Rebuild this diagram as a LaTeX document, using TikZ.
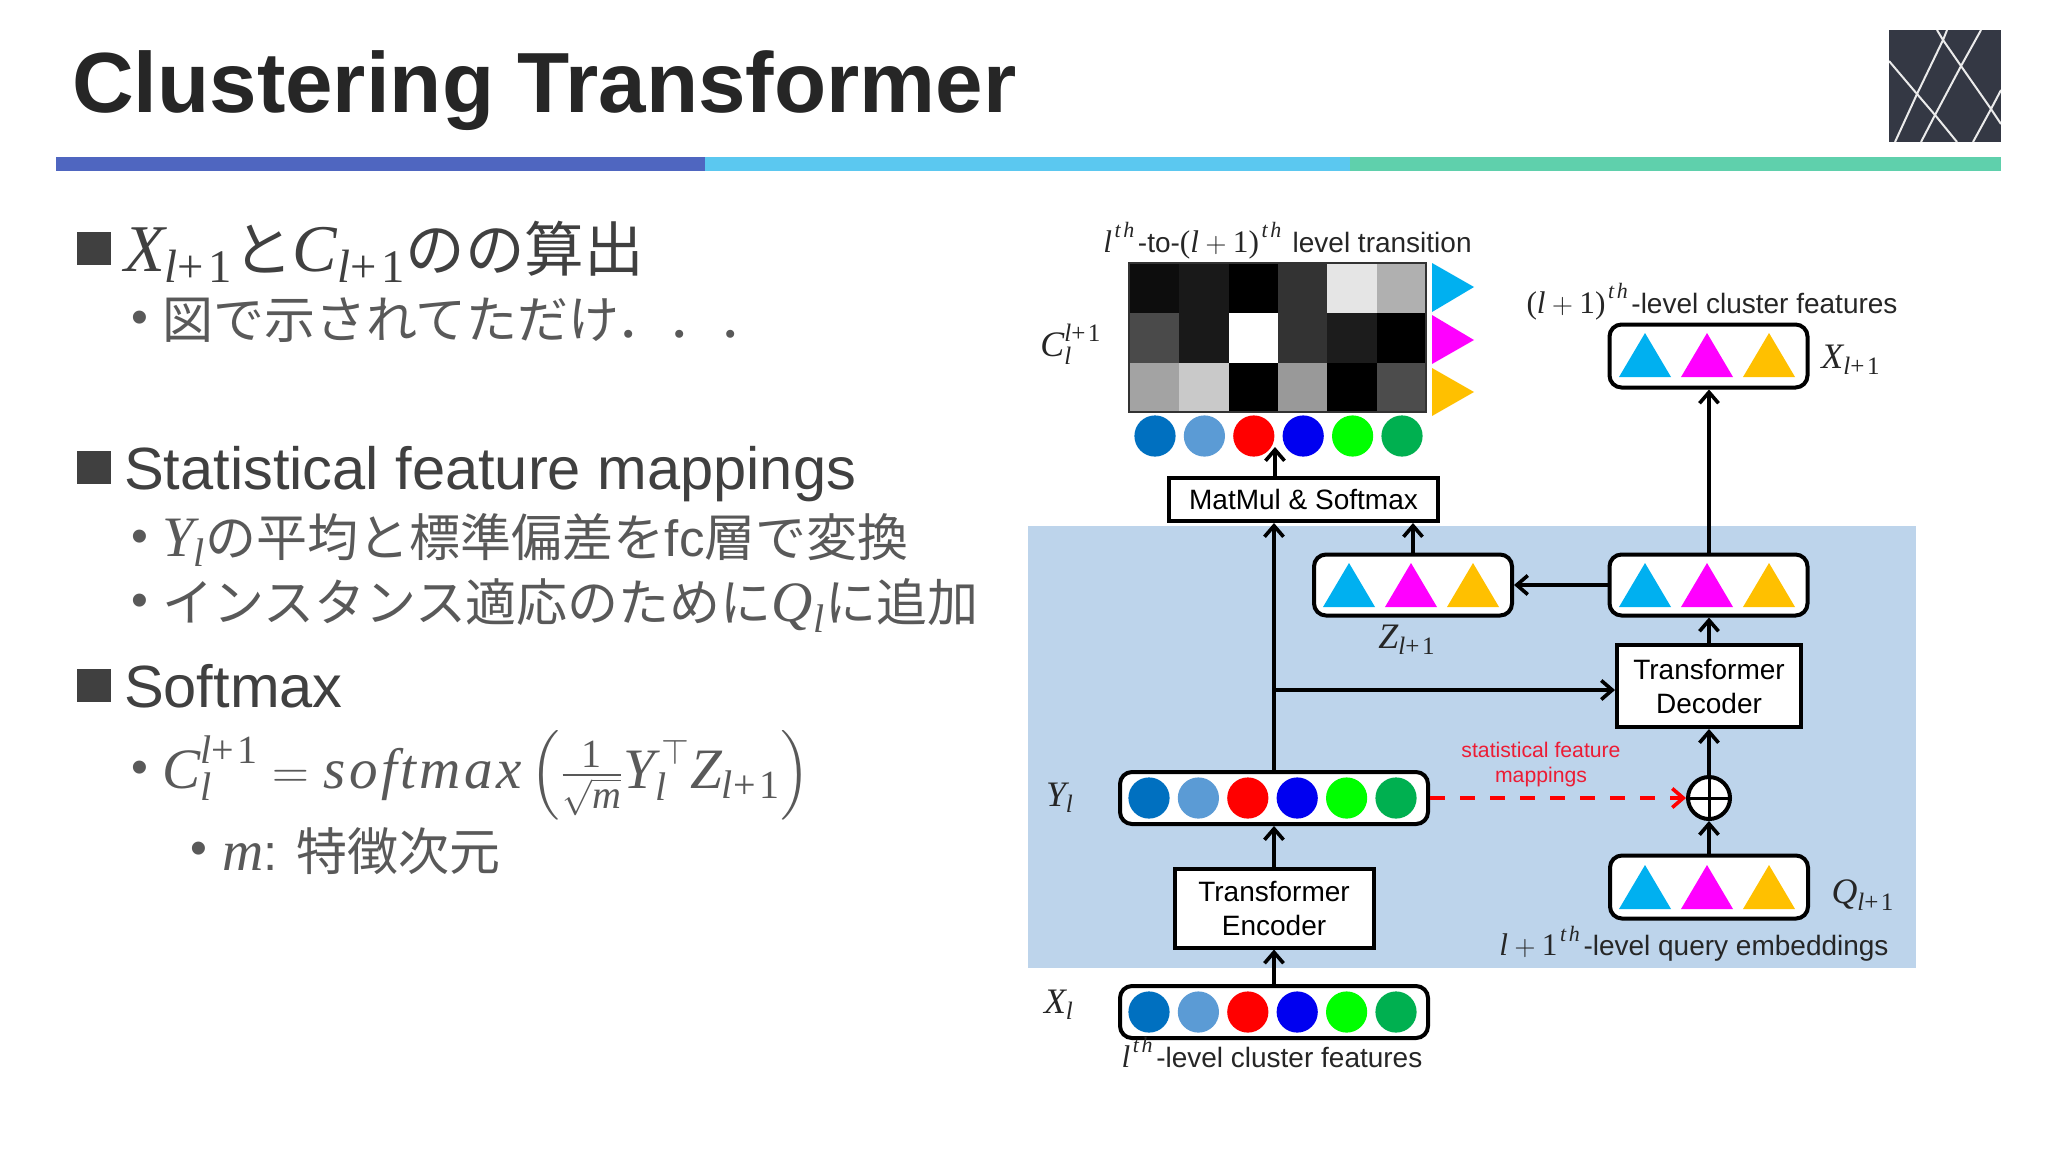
\documentclass[tikz,border=0pt]{standalone}
\usepackage{fix-cm}
\usepackage{amsmath}
\usepackage{fontspec}
\setmainfont{Liberation Sans}
\newfontfamily\jp{Noto Sans CJK JP}
\newfontfamily\mfam[Scale=1.12]{Liberation Serif}
\newfontfamily\mspaced[Scale=1.12,LetterSpace=6]{Liberation Serif}
\newfontfamily\mwide[Scale=1.12,LetterSpace=10]{Liberation Serif}
\newcommand{\mv}[1]{\text{\mfam\itshape #1}}
\newcommand{\mr}[1]{\text{\mfam\upshape #1}}
\newcommand{\lp}{\text{\mwide\itshape l}\text{\mwide\upshape +1}}
\newcommand{\thsup}{^{\text{\mfam\itshape\kern1.3pt t\kern1.3pt h\kern1.3pt}}}
\usetikzlibrary{arrows.meta}
\definecolor{cblue}{HTML}{0070C0}
\definecolor{clblue}{HTML}{5B9BD5}
\definecolor{cred}{HTML}{FF0000}
\definecolor{cdblue}{HTML}{0000F0}
\definecolor{clime}{HTML}{00FF00}
\definecolor{cgreen}{HTML}{00B050}
\definecolor{tcyan}{HTML}{00B0F0}
\definecolor{tmag}{HTML}{FF00FF}
\definecolor{tamb}{HTML}{FFC000}
\definecolor{panel}{HTML}{BDD4EB}
\definecolor{headtxt}{HTML}{404040}
\definecolor{subtxt}{HTML}{595959}
\definecolor{logobg}{HTML}{343844}
\tikzset{
  txt/.style={anchor=base west,inner sep=0pt,outer sep=0pt},
  ctxt/.style={anchor=base,inner sep=0pt,outer sep=0pt},
  head/.style={txt,text=headtxt,font=\fontsize{29.8}{36}\selectfont},
  sub/.style={txt,text=subtxt,font=\fontsize{25.5}{30}\selectfont},
  bul/.style={anchor=center,inner sep=0pt,text=subtxt,font=\fontsize{24}{28}\selectfont},
  sq/.style={fill=headtxt,inner sep=0pt,minimum width=17pt,minimum height=16.5pt},
  rbox/.style={draw=black,fill=white,line width=2pt,rounded corners=6pt,inner sep=0pt},
  sbox/.style={draw=black,fill=white,line width=2pt,inner sep=0pt,align=center,font=\fontsize{14}{17}\selectfont},
  dot/.style={circle,inner sep=0pt,minimum size=20.6pt},
  arr/.style={draw=black,line width=2pt,-{Straight Barb[length=5.5pt,width=9.5pt,line width=1.8pt]}},
  lbl/.style={ctxt,text=black!85,font=\fontsize{14}{16}\selectfont},
  mlbl/.style={anchor=center,inner sep=0pt,text=black!85,font=\fontsize{16}{18}\selectfont},
}
\newcommand{\sixdots}[3]{% prefix, x0 centre of first dot, y
  \foreach \i/\c in {0/cblue,1/clblue,2/cred,3/cdblue,4/clime,5/cgreen}
    \node[dot,fill=\c] (#1\i) at ({#2+49.4*\i},#3) {};
}
\newcommand{\threetri}[3]{% prefix, cx, cy
  \foreach \i/\c in {-1/tcyan,0/tmag,1/tamb}
    \fill[\c] ({#2+62*\i-26},{#3+22}) -- ({#2+62*\i},{#3-22}) -- ({#2+62*\i+26},{#3+22}) -- cycle;
}
\begin{document}
\begin{tikzpicture}[x=0.5pt,y=-0.5pt]
\useasboundingbox (0,0) rectangle (2048,1152);
\fill[white] (0,0) rectangle (2048,1152);

% title, rule and logo
\node[txt,text=black!85,font=\fontsize{42.7}{50}\selectfont\bfseries] (title) at (72,112.5) {Clustering Transformer};
\fill[fill={rgb,255:red,79;green,102;blue,192}] (56,157) rectangle (705,171);
\fill[fill={rgb,255:red,91;green,200;blue,240}] (705,157) rectangle (1350,171);
\fill[fill={rgb,255:red,95;green,208;blue,172}] (1350,157) rectangle (2001,171);
\fill[logobg] (1889,30) rectangle (2001,142);
\begin{scope}[white!92!black,line width=1pt,line join=round]
\clip (1889,30) rectangle (2001,142);
\draw (1889,61) -- (1917,94) -- (1935,115) -- (1957,142);
\draw (1895,142) -- (1917,94) -- (1943,40) -- (1947,30);
\draw (1937,30) -- (1943,40) -- (1961,66) -- (1991,109) -- (2001,124);
\draw (1921,142) -- (1935,115) -- (1961,66) -- (1981,30);
\draw (1973,142) -- (1991,109) -- (2001,90);
\end{scope}

% left column
\node[sq] (s1) at (93.5,248.5) {};
\node[head] (t1) at (124,271) {$\mv{X}_{\lp}${\jp と}$\mv{C}_{\lp}${\jp のの算出}};
\node[bul] (b2) at (140,322) {•};
\node[sub] (t2) at (162,338) {\jp 図で示されてただけ．．．};
\node[sq] (s3) at (93.5,467.5) {};
\node[head] (t3) at (124,489) {Statistical feature mappings};
\node[bul] (b4) at (140,541) {•};
\node[sub] (t4) at (162,556) {$\mv{Y}_{\mv{l}}${\jp の平均と標準偏差を}fc{\jp 層で変換}};
\node[bul] (b5) at (140,605) {•};
\node[sub] (t5) at (162,621) {\jp インスタンス適応のために$\mv{Q}_{\mv{l}}${\jp に追加}};
\node[sq] (s6) at (93.5,685.5) {};
\node[head] (t6) at (124,707) {Softmax};
\node[bul] (b7) at (140,772) {•};
\node[sub] (t7) at (162,788) {$\mv{C}_{\mv{l}}^{\lp}=\text{\mspaced\itshape softmax}\left(\frac{\mr{1}}{\sqrt{\mv{m}}}\mv{Y}_{\mv{l}}^{\,\top}\mv{Z}_{\lp}\right)$};
\node[bul] (b8) at (199,853) {•};
\node[sub] (t8) at (222,870) {$\mv{m}$: {\jp 特徴次元}};

% panel
\fill[panel] (1028,526) rectangle (1916,968);

% heat map
\node[draw=black!80,line width=1pt,inner sep=0pt,minimum width=148.5pt,minimum height=74.5pt] (heat) at (1277.5,337.5) {};
\foreach \xa/\xb/\ga/\gb/\gc in {1129/1179/5/29/64,1179/1229/10/10/79,1229/1278/0/100/0,1278/1327/20/20/60,1327/1377/90/11/0,1377/1426/69/0/30}{
  \fill[black!\the\numexpr100-\ga\relax] (\xa,263) rectangle (\xb,313);
  \fill[black!\the\numexpr100-\gb\relax] (\xa,313) rectangle (\xb,363);
  \fill[black!\the\numexpr100-\gc\relax] (\xa,363) rectangle (\xb,412);
}
\draw[black!80,line width=1pt] (1129,263) rectangle (1426,412);
\fill[tcyan] (1432,263) -- (1474,287) -- (1432,312) -- cycle;
\fill[tmag] (1432,315) -- (1474,340) -- (1432,364) -- cycle;
\fill[tamb] (1432,368) -- (1474,392) -- (1432,416) -- cycle;
\sixdots{c}{1155}{436}
\node[lbl] (lt) at (1287.5,252) {$\mv{l}\thsup$-to-$\mr{(}\mv{l}+\mr{1)}\thsup$ level transition};
\node[mlbl] (lc) at (1071,344) {$\mv{C}_{\mv{l}}^{\lp}$};

% boxes
\node[sbox,minimum width=134.5pt,minimum height=21.5pt] (matmul) at (1303.5,499.5) {MatMul \& Softmax};
\node[rbox,minimum width=99pt,minimum height=31.5pt] (xn) at (1708.5,356) {};
\threetri{xn}{1707}{355}
\node[lbl] (lxn) at (1712,313) {$\mr{(}\mv{l}+\mr{1)}\thsup$-level cluster features};
\node[mlbl] (mxn) at (1851,360) {$\mv{X}_{\lp}$};

\node[rbox,minimum width=99pt,minimum height=30.5pt] (dout) at (1708.5,585) {};
\threetri{dout}{1707}{585}
\node[rbox,minimum width=99pt,minimum height=30.5pt] (zb) at (1413,585) {};
\threetri{zb}{1411}{585}
\node[mlbl] (mz) at (1407,640) {$\mv{Z}_{\lp}$};

\node[sbox,minimum width=92pt,minimum height=41pt] (dec) at (1709,686) {Transformer\\Decoder};
\node[circle,draw=black,fill=white,line width=2pt,inner sep=0pt,minimum size=21pt] (op) at (1709,798) {};
\draw[black,line width=1.5pt] (op.north) -- (op.south);
\draw[black,line width=1.5pt] (op.west) -- (op.east);

\node[rbox,minimum width=99pt,minimum height=31.5pt] (qb) at (1709,887) {};
\threetri{qb}{1707}{887}
\node[mlbl] (mq) at (1863,895) {$\mv{Q}_{\lp}$};
\node[lbl] (lq) at (1694,955) {$\mv{l}+\mr{1}\thsup$-level query embeddings};

\node[rbox,minimum width=154pt,minimum height=26pt] (yb) at (1274,798) {};
\sixdots{y}{1149}{798}
\node[mlbl] (my) at (1060,798) {$\mv{Y}_{\mv{l}}$};

\node[sbox,minimum width=99.5pt,minimum height=39.5pt] (enc) at (1274,908) {Transformer\\Encoder};

\node[rbox,minimum width=154pt,minimum height=26pt] (xb) at (1274,1012) {};
\sixdots{x}{1149}{1012}
\node[mlbl] (mx) at (1059,1005) {$\mv{X}_{\mv{l}}$};
\node[lbl] (lx) at (1272,1067) {$\mv{l}\thsup$-level cluster features};

\node[ctxt,text={rgb,255:red,236;green,28;blue,52},font=\fontsize{10.6}{13}\selectfont] (r1) at (1541,757) {statistical feature};
\node[ctxt,text={rgb,255:red,236;green,28;blue,52},font=\fontsize{10.6}{13}\selectfont] (r2) at (1541,782) {mappings};

% connectors
\coordinate (ctip) at (1275,447);
\coordinate (jy) at (1400,690);
\draw[arr] (matmul.north -| ctip) -- (ctip);
\draw[arr] (yb.north) -- (yb.north |- matmul.south);
\draw[arr] (zb.north) -- (zb.north |- matmul.south);
\coordinate (junc) at (yb.north |- jy);
\draw[arr] (junc) -- (dec.west |- jy);
\draw[arr] (dout.west) -- (zb.east);
\draw[arr] (dec.north) -- (dout.south -| dec.north);
\draw[arr] (dout.north -| dec.north) -- (xn.south -| dec.north);
\draw[arr] (op.north) -- (dec.south);
\draw[arr] (qb.north) -- (op.south);
\draw[arr] (enc.north) -- (yb.south);
\draw[arr] (xb.north) -- (enc.south);
\draw[red,line width=2pt,dash pattern=on 7.5pt off 7.5pt,-{Straight Barb[length=5.5pt,width=9.5pt,line width=1.8pt]}] (yb.east) -- (op.west);
\end{tikzpicture}
\end{document}
